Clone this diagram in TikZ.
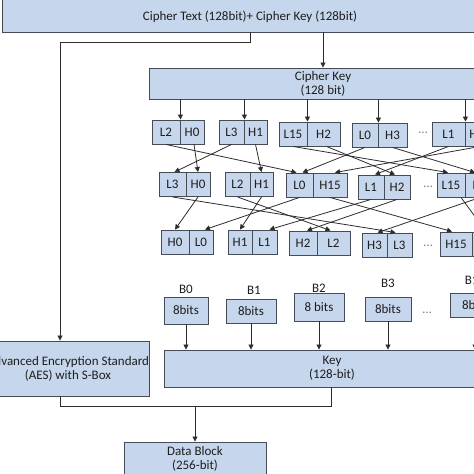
\documentclass[tikz,border=0pt]{standalone}
\usepackage{fontspec}
\setmainfont{Carlito}
\usetikzlibrary{arrows.meta}
\definecolor{boxblue}{RGB}{198,214,236}
\definecolor{boxedge}{RGB}{70,76,86}
\definecolor{wire}{RGB}{45,45,45}
\definecolor{ink}{RGB}{30,30,30}

\begin{document}
\begin{tikzpicture}[x=1pt, y=-1pt, >={Triangle[length=5pt,width=5pt]},
  every node/.style={font=\fontsize{13}{14}\selectfont, text=ink},
  blk/.style={draw=boxedge, fill=boxblue, line width=0.9pt, inner sep=0pt, align=center},
  cell/.style={blk, minimum height=24pt},
  byte/.style={blk, minimum height=24pt},
  dots/.style={text=gray}]

\useasboundingbox (0,0) rectangle (474,474);
\clip (0,0) rectangle (474,474);

% big blocks
\node[blk, minimum width=496pt, minimum height=44pt, text height=23pt, text depth=3pt] (src) at (250,10) {Cipher Text (128bit)+ Cipher Key (128bit)};
\node[blk, minimum width=348pt, minimum height=31pt] (ckey) at (323,83.5) {Cipher Key\\(128 bit)};
\node[blk, minimum width=158pt, minimum height=55pt] (aes) at (68,368.5) {Advanced Encryption Standard\\(AES) with S-Box};
\node[blk, minimum width=336pt, minimum height=37pt] (key) at (332,368.5) {Key\\(128-bit)};
\node[blk, minimum width=142pt, minimum height=33pt] (data) at (195,458.5) {Data Block\\(256-bit)};

% row 1
\node[cell, minimum width=28pt] (r1l2) at (166,132) {L2};
\node[cell, minimum width=24pt] (r1h0) at (192,132) {H0};
\node[cell, minimum width=25pt] (r1l3) at (231.5,132) {L3};
\node[cell, minimum width=23pt] (r1h1) at (255.5,132) {H1};
\node[cell, minimum width=28pt] (r1l15) at (293,134) {L15};
\node[cell, minimum width=33pt] (r1h2) at (323.5,134) {H2};
\node[cell, minimum width=26pt] (r1l0) at (365,135) {L0};
\node[cell, minimum width=29pt] (r1h3) at (392.5,135) {H3};
\node[dots] (dots1) at (423,133) {\dots};
\node[cell, minimum width=33pt] (r1l1) at (448.5,134) {L1};
\node[cell, minimum width=30pt] (r1h15) at (480,134) {H15};

% row 2
\node[cell, minimum width=27pt] (r2l3) at (172.5,184.5) {L3};
\node[cell, minimum width=24pt] (r2h0) at (198,184.5) {H0};
\node[cell, minimum width=25pt] (r2l2) at (237.5,184.5) {L2};
\node[cell, minimum width=23pt] (r2h1) at (261.5,184.5) {H1};
\node[cell, minimum width=27pt] (r2l0) at (299.5,185) {L0};
\node[cell, minimum width=34pt] (r2h15) at (330,185) {H15};
\node[cell, minimum width=26pt] (r2l1) at (371,187) {L1};
\node[cell, minimum width=26pt] (r2h2) at (397,187) {H2};
\node[dots] (dots2) at (428,187) {\dots};
\node[cell, minimum width=28pt] (r2l15) at (451,185) {L15};
\node[cell, minimum width=30pt] (r2h3) at (480,185) {H3};

% row 3
\node[cell, minimum width=28pt] (r3h0) at (175,242) {H0};
\node[cell, minimum width=24pt] (r3l0) at (201,242) {L0};
\node[cell, minimum width=24pt] (r3h1) at (240,242) {H1};
\node[cell, minimum width=25pt] (r3l1) at (264.5,242) {L1};
\node[cell, minimum width=28pt] (r3h2) at (303,243) {H2};
\node[cell, minimum width=33pt] (r3l2) at (333.5,243) {L2};
\node[cell, minimum width=25pt] (r3h3) at (374.5,245) {H3};
\node[cell, minimum width=25pt] (r3l3) at (399.5,245) {L3};
\node[dots] (dots3) at (428,246) {\dots};
\node[cell, minimum width=32pt] (r3h15) at (456,244) {H15};
\node[cell, minimum width=28pt] (r3l15) at (486,244) {L15};

% bytes
\node[byte, minimum width=44pt, minimum height=27pt] (b0) at (186,310.5) {8bits};
\node[byte, minimum width=50pt] (b1) at (251,311) {8bits};
\node[byte, minimum width=50pt, minimum height=28pt] (b2) at (319,307) {8 bits};
\node[byte, minimum width=46pt] (b3) at (388,309) {8bits};
\node[dots] (dots4) at (427,313) {\dots};
\node[byte, minimum width=50pt] (b15) at (475,305) {8bits};
\node (lb0) at (186,289) {B0};
\node (lb1) at (254,290) {B1};
\node (lb2) at (319,288) {B2};
\node (lb3) at (388,283) {B3};
\node (lb15) at (475,280) {B15};

\coordinate (tap) at (60,42);
\coordinate (jl) at (60,406);
\coordinate (jr) at (331,406);

\begin{scope}[draw=wire, line width=0.8pt, ->]
\draw (src.south) |- (tap) -- (tap |- aes.north);
\draw (src.south -| ckey.north) -- (ckey.north);
\foreach \c in {r1l2,r1l3,r1l15,r1l0,r1l1}
  \draw (ckey.south -| \c.east) -- (\c.north east);
\foreach \b in {b0,b1,b2,b3,b15}
  \draw (\b.south) -- (\b.south |- key.north);
\draw[-] (jl |- aes.south) -- (jl) -- (jr) -- (jr |- key.south);
\draw (data.north |- jl) -- (data.north);

% row 1 to row 2
\draw (r1l2.south) -- ([xshift=-3pt]r2l0.north);
\draw ([xshift=2pt]r1h0.south) -- (r2h0.north);
\draw (r1l3.south) -- ([xshift=2pt]r2l3.north);
\draw (r1h1.south) -- (r2h1.north);
\draw (r1l15.south) -- ([xshift=-3pt]r2l15.north);
\draw ([xshift=3pt]r1h2.south) -- ([xshift=-2pt]r2h2.north);
\draw (r1l0.south) -- ([xshift=3pt]r2l0.north);
\draw (r1h3.south) -- ([xshift=-5pt]r2h3.north);
\draw (r1l1.south) -- ([xshift=4pt]r2l1.north);
\draw (r1h15.south) -- ([xshift=5pt]r2h15.north);

% row 2 to row 3
\draw (r2l3.south) -- ([xshift=-4pt]r3l3.north);
\draw (r2h0.south) -- (r3h0.north);
\draw (r2l2.south) -- ([xshift=-3pt]r3l2.north);
\draw (r2h1.south) -- (r3h1.north);
\draw (r2l0.south) -- ([xshift=4pt]r3l0.north);
\draw (r2h15.south) -- ([xshift=-4pt]r3h15.north);
\draw (r2l1.south) -- ([xshift=5pt]r3l1.north);
\draw (r2h2.south) -- ([xshift=4pt]r3h2.north);
\draw ([xshift=10pt]r2l15.south) -- (r3l15.north);
\draw (r2h3.south) -- ([xshift=3pt]r3h3.north);
\end{scope}

\end{tikzpicture}
\end{document}
